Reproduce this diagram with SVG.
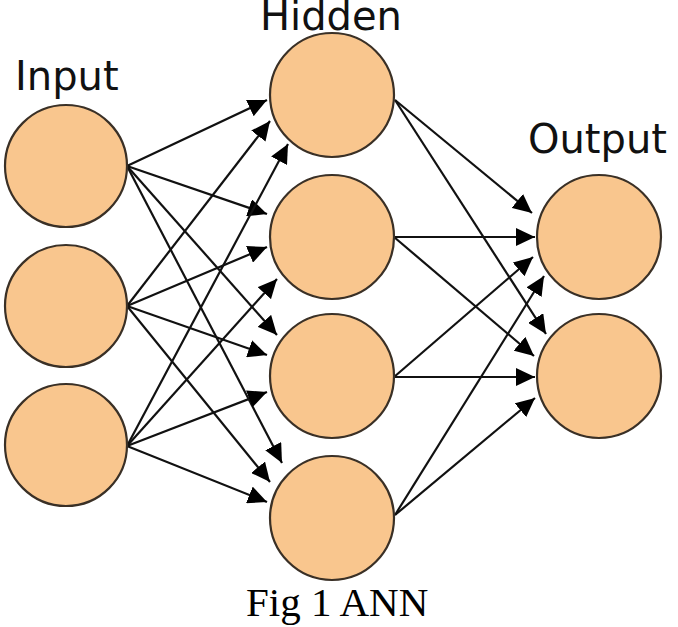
<svg xmlns="http://www.w3.org/2000/svg" width="678" height="627" viewBox="0 0 678 627">
<style>
.node{fill:#f9c68e;stroke:#3a3026;stroke-width:2.2}
.lbl{font-family:"DejaVu Sans",Verdana,sans-serif;font-size:40px;fill:#111}
.cap{font-family:"Liberation Serif","Times New Roman",serif;font-size:41px;fill:#000}
#edges line{stroke:#111;stroke-width:2.2;marker-end:url(#ah)}
</style>
<defs>
<marker id="ah" markerUnits="userSpaceOnUse" markerWidth="20" markerHeight="18" refX="19" refY="9" orient="auto">
<path d="M0,0 L19,9 L0,18 z" fill="#000"/>
</marker>
</defs>
<rect width="678" height="627" fill="#fff"/>
<g id="edges">
<line x1="127" y1="166" x2="267" y2="100"/>
<line x1="127" y1="166" x2="267" y2="214"/>
<line x1="127" y1="166" x2="277" y2="335"/>
<line x1="127" y1="166" x2="282" y2="463"/>
<line x1="127" y1="306" x2="270" y2="121"/>
<line x1="127" y1="306" x2="267" y2="247"/>
<line x1="127" y1="306" x2="267" y2="355"/>
<line x1="127" y1="306" x2="270" y2="482"/>
<line x1="127" y1="446" x2="288" y2="144"/>
<line x1="127" y1="446" x2="277" y2="279"/>
<line x1="127" y1="446" x2="267" y2="392"/>
<line x1="127" y1="446" x2="267" y2="502"/>
<line x1="395" y1="100" x2="532" y2="213"/>
<line x1="395" y1="100" x2="546" y2="334"/>
<line x1="394" y1="237" x2="535" y2="237"/>
<line x1="394" y1="237" x2="534" y2="356"/>
<line x1="394" y1="377" x2="533" y2="257"/>
<line x1="394" y1="377" x2="535" y2="377"/>
<line x1="395" y1="515" x2="544" y2="276"/>
<line x1="395" y1="515" x2="535" y2="398"/>
</g>
<g id="input1"><circle class="node" cx="66" cy="166" r="61"/></g>
<g id="input2"><circle class="node" cx="66" cy="306" r="61"/></g>
<g id="input3"><circle class="node" cx="66" cy="445" r="61"/></g>
<g id="hidden1"><circle class="node" cx="332" cy="95" r="62"/></g>
<g id="hidden2"><circle class="node" cx="332" cy="237" r="62"/></g>
<g id="hidden3"><circle class="node" cx="332" cy="376" r="62"/></g>
<g id="hidden4"><circle class="node" cx="332" cy="518" r="62"/></g>
<g id="output1"><circle class="node" cx="599" cy="237" r="62"/></g>
<g id="output2"><circle class="node" cx="599" cy="376" r="62"/></g>
<g id="labels">
<text class="lbl" x="260" y="30">Hidden</text>
<text class="lbl" x="15" y="90">Input</text>
<text class="lbl" x="528" y="153">Output</text>
<text class="cap" x="246" y="616">Fig 1 ANN</text>
</g>
</svg>
